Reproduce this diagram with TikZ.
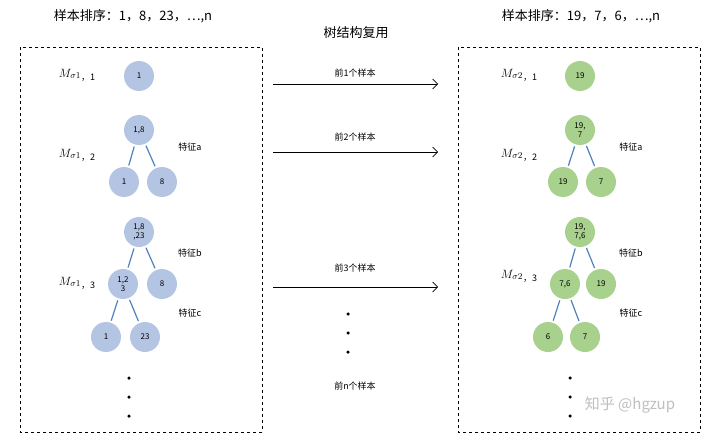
\documentclass[tikz,border=0pt]{standalone}
\usepackage{fontspec}
\setmainfont{Noto Sans CJK SC}
\usetikzlibrary{arrows.meta}
\definecolor{bc}{HTML}{B4C5E4}
\definecolor{gc}{HTML}{A9D18E}
\definecolor{ec}{HTML}{4F81BD}
\tikzset{
 bn/.style={circle,fill=bc,minimum size=30pt,inner sep=0pt,font=\fontsize{8}{9}\selectfont,align=center},
 gn/.style={bn,fill=gc},
 ed/.style={ec,line width=1.2pt,shorten <=2pt,shorten >=2pt},
 lb/.style={font=\fontsize{9}{11}\selectfont},
 ml/.style={font=\fontsize{13}{15}\selectfont},
 dt/.style={circle,fill=black,inner sep=0pt,minimum size=3.5pt},
 ar/.style={-{Straight Barb[length=5pt]},line width=0.7pt},
 ttl/.style={font=\fontsize{13}{15}\selectfont}
}
\newcommand{\msub}[2]{$M_{\sigma#1}$\raisebox{-3pt}{\fontsize{9}{10}\selectfont，#2}}
\begin{document}
\begin{tikzpicture}[x=1pt,y=-1pt]
\useasboundingbox[fill=white] (0,0) rectangle (718,439);
\node[ttl] (t1) at (133,16) {样本排序：1，8，23，…,n};
\node[ttl] (t2) at (356,33) {树结构复用};
\node[ttl] (t3) at (581,16) {样本排序：19，7，6，…,n};
\draw[dashed,line width=0.7pt] (20,47) rectangle (262,432);
\draw[dashed,line width=0.7pt] (458,47) rectangle (700,432);
% left
\node[bn] (a1) at (139,76) {1};
\node[bn] (b0) at (139,130) {1,8};
\node[bn] (b1) at (124,182) {1};
\node[bn] (b2) at (162,182) {8};
\node[bn] (c0) at (139,232) {1,8\\,23};
\node[bn] (c1) at (123,284) {1,2\\3};
\node[bn] (c2) at (162,284) {8};
\node[bn] (c3) at (106,337) {1};
\node[bn] (c4) at (145,337) {23};
\draw[ed] (b0)--(b1); \draw[ed] (b0)--(b2);
\draw[ed] (c0)--(c1); \draw[ed] (c0)--(c2);
\draw[ed] (c1)--(c3); \draw[ed] (c1)--(c4);
\node[ml] (m1) at (77,75) {\msub{1}{1}};
\node[ml] (m2) at (77,155) {\msub{1}{2}};
\node[ml] (m3) at (77,283) {\msub{1}{3}};
\node[lb] (fa) at (190,147) {特征a};
\node[lb] (fb) at (190,253) {特征b};
\node[lb] (fc) at (190,313) {特征c};
\node[dt] (ld1) at (129,378) {}; \node[dt] (ld2) at (129,397) {}; \node[dt] (ld3) at (129,416) {};
% right
\node[gn] (ra1) at (580,76) {19};
\node[gn] (rb0) at (580,130) {19,\\7};
\node[gn] (rb1) at (563,182) {19};
\node[gn] (rb2) at (601,182) {7};
\node[gn] (rc0) at (580,232) {19,\\7,6};
\node[gn] (rc1) at (565,284) {7,6};
\node[gn] (rc2) at (601,284) {19};
\node[gn] (rc3) at (548,337) {6};
\node[gn] (rc4) at (585,337) {7};
\draw[ed] (rb0)--(rb1); \draw[ed] (rb0)--(rb2);
\draw[ed] (rc0)--(rc1); \draw[ed] (rc0)--(rc2);
\draw[ed] (rc1)--(rc3); \draw[ed] (rc1)--(rc4);
\node[ml] (rm1) at (519,75) {\msub{2}{1}};
\node[ml] (rm2) at (519,155) {\msub{2}{2}};
\node[ml] (rm3) at (519,276) {\msub{2}{3}};
\node[lb] (rfa) at (631,147) {特征a};
\node[lb] (rfb) at (631,253) {特征b};
\node[lb] (rfc) at (631,313) {特征c};
\node[dt] (rd1) at (570,378) {}; \node[dt] (rd2) at (570,397) {}; \node[dt] (rd3) at (570,416) {};
% middle
\coordinate (s1) at (273,84); \coordinate (e1) at (438,84);
\coordinate (s2) at (273,152); \coordinate (e2) at (438,152);
\coordinate (s3) at (273,287); \coordinate (e3) at (438,287);
\draw[ar] (s1)--(e1); \draw[ar] (s2)--(e2); \draw[ar] (s3)--(e3);
\node[lb] (p1) at (355,73) {前1个样本};
\node[lb] (p2) at (355,137) {前2个样本};
\node[lb] (p3) at (355,268) {前3个样本};
\node[dt] (md1) at (348,314) {}; \node[dt] (md2) at (348,333) {}; \node[dt] (md3) at (348,352) {};
\node[lb] (pn) at (355,386) {前n个样本};
\node[font=\fontsize{15}{17}\selectfont,text=black!25] (wm) at (630,405) {知乎 @hgzup};
\end{tikzpicture}
\end{document}
